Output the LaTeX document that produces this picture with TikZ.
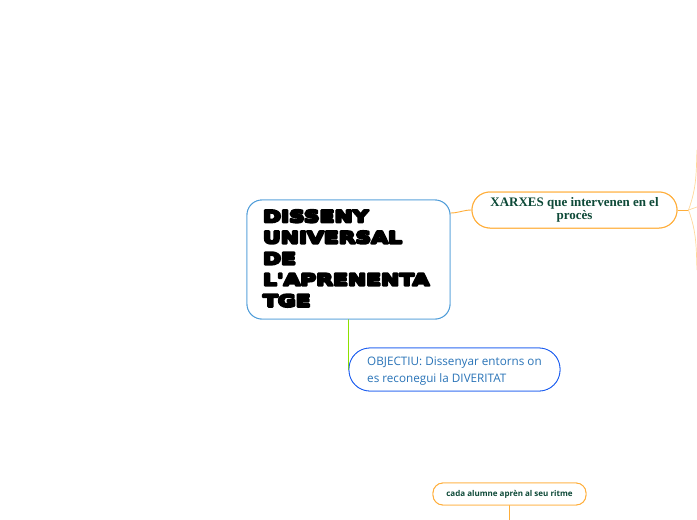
\documentclass[tikz,border=0pt]{standalone}
\usepackage{fontspec}
\setmainfont{Open Sans}
\newfontfamily\heavyfont[FakeStretch=1.32]{DejaVu Sans Bold}
\newfontfamily\serifb{Liberation Serif}
\newfontfamily\opensans{Open Sans}
\newcommand{\heavyon}{\special{pdf:literal direct 2 Tr 2.3 w 1 j}}
\newcommand{\heavyoff}{\special{pdf:literal direct 0 Tr}}
\definecolor{cblue}{HTML}{4A9AD8}
\definecolor{oblue}{HTML}{1A5CF0}
\definecolor{otext}{HTML}{2A74B8}
\definecolor{orng}{HTML}{FFAE3A}
\definecolor{lorng}{HTML}{FFD79A}
\definecolor{dgreen}{HTML}{0E4A38}
\definecolor{lgreen}{HTML}{8EE000}
\tikzset{
  centralbox/.style={draw=cblue, line width=0.9pt, fill=white, rounded corners=15pt, minimum width=203pt, minimum height=119pt},
  xarxesbox/.style={draw=orng, line width=1pt, fill=white, rounded corners=18pt, minimum width=205pt, minimum height=36pt, align=center, font=\serifb\bfseries\fontsize{13}{13.5}\selectfont, text=dgreen, inner sep=0pt},
  objbox/.style={draw=oblue, line width=0.8pt, fill=white, rounded corners=21pt, minimum width=211pt, minimum height=43pt, inner sep=0pt},
  cadabox/.style={draw=orng, line width=0.9pt, fill=white, rounded corners=10pt, minimum width=153pt, minimum height=22pt, font=\opensans\bfseries\fontsize{8}{9}\selectfont, text=dgreen, inner sep=0pt},
  conn/.style={line width=0.9pt}
}
\begin{document}
\begin{tikzpicture}[x=1pt,y=-1pt]
\useasboundingbox (0,0) rectangle (697,520);
\node[centralbox] (central) at (348.5,259.5) {};
\node[xarxesbox] (xarxes) at (574.5,210) {XARXES que intervenen en el\\procès};
\node[objbox] (obj) at (454.5,369.5) {};
\node[cadabox] (cada) at (509.5,494) {cada alumne aprèn al seu ritme};
\coordinate (junc) at (688.5,210);
\coordinate (bup) at (697,150);
\coordinate (bmid) at (697,207);
\coordinate (bdown) at (697,270);
\coordinate (cadaend) at (509.5,520);
\draw[conn, draw=orng] (central.east |- 0,213) to[out=0,in=180] (xarxes.west);
\draw[conn, draw=orng] (xarxes.east) -- (junc);
\draw[line width=0.7pt, draw=lorng] (junc) to[out=70,in=268] (bup);
\draw[line width=0.7pt, draw=lorng] (junc) to[out=0,in=180] (bmid);
\draw[line width=0.7pt, draw=lorng] (junc) to[out=-70,in=92] (bdown);
\draw[conn, draw=lgreen] (central.south) -- (central.south |- obj.west);
\draw[conn, draw=orng] (cada.south) -- (cadaend);
\node[centralbox] at (central) {};
\node[xarxesbox] at (xarxes) {XARXES que intervenen en el\\procès};
\node[objbox] at (obj) {};
\node[cadabox] at (cada) {cada alumne aprèn al seu ritme};
\node[anchor=north west, inner sep=0pt, align=left, font=\heavyfont\fontsize{16.5}{21.1}\selectfont, text=black] (ctext) at (262.8,209.8) {\heavyon DISSENY\\UNIVERSAL\\DE\\L'APRENENTA\\TGE\heavyoff};
\node[anchor=west, inner sep=0pt, align=left, font=\opensans\fontsize{11.7}{17}\selectfont, text=otext] (otext) at (367,371) {OBJECTIU: Dissenyar entorns on\\es reconegui la DIVERITAT};
\end{tikzpicture}
\end{document}
